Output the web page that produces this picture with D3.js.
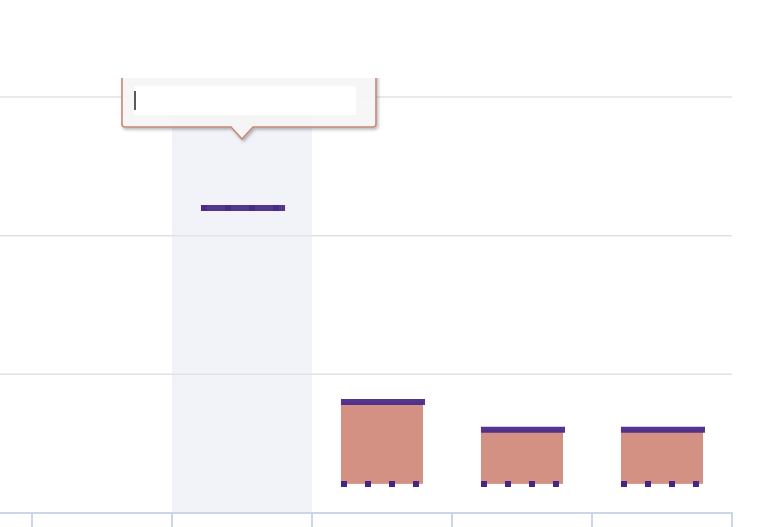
<!DOCTYPE html>
<html>
<head>
<meta charset="utf-8">
<script src="https://cdn.jsdelivr.net/npm/d3@7"></script>
<style>
  html, body { margin: 0; padding: 0; background: #fff; }
  svg { display: block; }
</style>
</head>
<body>
<div id="chart"></div>
<script>
// Dati: categorie e intervalli (low/high) per colonna
const categories = ["A", "B", "C", "D", "E"];
const lowValues = [null, 2.2, 0.21, 0.21, 0.21];
const highValues = [null, 2.2, 0.8, 0.6, 0.6];
const gridTicks = [1, 2, 3];
const hoverIndex = 1;

const width = 769;
const height = 527;
const plot = { left: 32, right: 732, top: 97, bottom: 513 };

const svg = d3.select("#chart").append("svg").attr("width", width).attr("height", height);

const x = d3.scaleBand().domain(categories).range([plot.left, plot.right]);
const y = d3.scaleLinear().domain([0, 3]).range([plot.bottom, plot.top]);

const defs = svg.append("defs");
const shadow = defs.append("filter").attr("id", "tip-shadow").attr("x", "-10%").attr("y", "-10%").attr("width", "130%").attr("height", "150%");
shadow.append("feDropShadow").attr("dx", 1.5).attr("dy", 2).attr("stdDeviation", 1.6).attr("flood-color", "#000").attr("flood-opacity", 0.28);

// Banda evidenziata (crosshair)
svg.append("rect")
  .attr("x", x(categories[hoverIndex]))
  .attr("y", plot.top)
  .attr("width", x.bandwidth())
  .attr("height", plot.bottom - plot.top)
  .attr("fill", "#f2f3f8");

// Griglia
svg.append("g")
  .selectAll("line")
  .data(gridTicks)
  .join("line")
  .attr("x1", 0)
  .attr("x2", plot.right)
  .attr("y1", (d) => y(d))
  .attr("y2", (d) => y(d))
  .attr("stroke", "#e2e2e6")
  .attr("stroke-width", 1.5);

// Asse X: linea e tacche ai bordi delle categorie
const axisG = svg.append("g").attr("transform", `translate(0,${plot.bottom})`);
axisG.selectAll("line.boundary")
  .data(categories.concat(["end"]))
  .join("line")
  .attr("class", "boundary")
  .attr("x1", (d, i) => plot.left + i * x.step())
  .attr("x2", (d, i) => plot.left + i * x.step())
  .attr("y1", 0)
  .attr("y2", 14)
  .attr("stroke", "#ccd6eb")
  .attr("stroke-width", 2);
axisG.append("line")
  .attr("x1", 0)
  .attr("x2", plot.right + 1)
  .attr("y1", 0)
  .attr("y2", 0)
  .attr("stroke", "#ccd6eb")
  .attr("stroke-width", 2);

// Colonne (range)
const data = categories.map((c, i) => ({ cat: c, low: lowValues[i], high: highValues[i] }))
  .filter((d) => d.low != null);
const colW = x.bandwidth() * 0.586;
const colX = (d) => x(d.cat) + (x.bandwidth() - colW) / 2;
const cols = svg.append("g").selectAll("g").data(data).join("g");

cols.append("rect")
  .attr("x", colX)
  .attr("y", (d) => y(d.high))
  .attr("width", colW)
  .attr("height", (d) => y(d.low) - y(d.high))
  .attr("fill", "#d39184");

cols.append("line")
  .attr("x1", colX)
  .attr("x2", (d) => colX(d) + colW + 2)
  .attr("y1", (d) => y(d.low))
  .attr("y2", (d) => y(d.low))
  .attr("stroke", "#452586")
  .attr("stroke-width", 6)
  .attr("stroke-dasharray", "6,18");

cols.append("line")
  .attr("x1", colX)
  .attr("x2", (d) => colX(d) + colW + 2)
  .attr("y1", (d) => y(d.high))
  .attr("y2", (d) => y(d.high))
  .attr("stroke", "#4b2a8a")
  .attr("stroke-width", 6)
  .attr("stroke-opacity", 0.95);

// Tooltip
const cx = x(categories[hoverIndex]) + x.bandwidth() / 2;
const tipL = cx - 120, tipR = cx + 134, tipT = 70, tipB = 127, tipTip = 139;
const tipPath = `M${tipL + 3},${tipT} L${tipR - 3},${tipT} Q${tipR},${tipT} ${tipR},${tipT + 3} L${tipR},${tipB - 3} Q${tipR},${tipB} ${tipR - 3},${tipB} L${cx + 11},${tipB} L${cx},${tipTip} L${cx - 11},${tipB} L${tipL + 3},${tipB} Q${tipL},${tipB} ${tipL},${tipB - 3} L${tipL},${tipT + 3} Q${tipL},${tipT} ${tipL + 3},${tipT} Z`;
const tip = svg.append("g");
tip.append("path")
  .attr("d", tipPath)
  .attr("fill", "#f7f7f7")
  .attr("fill-opacity", 0.95)
  .attr("stroke", "#c8877a")
  .attr("stroke-width", 1.6)
  .attr("filter", "url(#tip-shadow)");
tip.append("rect")
  .attr("x", tipL + 12)
  .attr("y", 86)
  .attr("width", 222)
  .attr("height", 29)
  .attr("fill", "#ffffff");
tip.append("line")
  .attr("x1", tipL + 13)
  .attr("x2", tipL + 13)
  .attr("y1", 91)
  .attr("y2", 110)
  .attr("stroke", "#222")
  .attr("stroke-width", 1.5);

// Area sopra il grafico (taglio)
svg.append("rect").attr("x", 0).attr("y", 0).attr("width", width).attr("height", 78).attr("fill", "#fff");
</script>
</body>
</html>
